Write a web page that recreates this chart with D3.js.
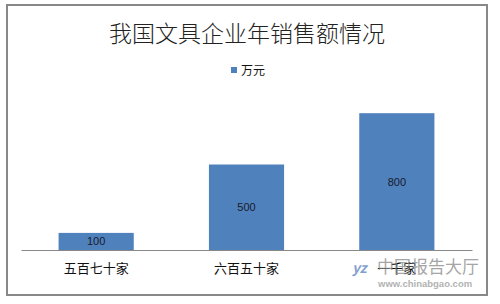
<!DOCTYPE html>
<html><head><meta charset="utf-8">
<script src="https://cdn.jsdelivr.net/npm/d3@7"></script>
<style>body{margin:0;background:#fff}</style>
</head><body>
<svg id="c" width="500" height="304"></svg>
<script>
const categories = ["五百七十家", "六百五十家", "一千家"];
const values = [100, 500, 800];
const seriesName = "万元";
const title = "我国文具企业年销售额情况";

const svg = d3.select("#c");
const font = "'Noto Sans CJK SC', 'Microsoft YaHei', sans-serif";
svg.append("rect").attr("x", 7).attr("y", 5).attr("width", 480).attr("height", 290)
  .attr("fill", "#fff").attr("stroke", "#888").attr("stroke-width", 2);

svg.append("text").attr("x", 247).attr("y", 42).attr("text-anchor", "middle")
  .attr("font-family", font).attr("font-size", 23).attr("font-weight", 300).attr("fill", "#222").text(title);

svg.append("rect").attr("x", 231).attr("y", 67).attr("width", 6).attr("height", 6).attr("fill", "#4F81BD");
svg.append("text").attr("x", 241).attr("y", 75).attr("font-family", font).attr("font-size", 12)
  .attr("fill", "#111").text(seriesName);

const x = d3.scaleBand().domain(categories).range([21, 472]).paddingInner(0.5).paddingOuter(0.25);
const y = d3.scaleLinear().domain([0, 1000]).range([250, 79]);

svg.selectAll(".bar").data(values).join("rect").attr("class", "bar")
  .attr("x", (d, i) => x(categories[i])).attr("width", x.bandwidth())
  .attr("y", d => y(d)).attr("height", d => y(0) - y(d)).attr("fill", "#4F81BD");

svg.selectAll(".vl").data(values).join("text").attr("class", "vl")
  .attr("x", (d, i) => x(categories[i]) + x.bandwidth() / 2)
  .attr("y", d => (y(d) + y(0)) / 2 + 4).attr("text-anchor", "middle")
  .attr("font-family", "'Liberation Sans', Arial, sans-serif").attr("font-size", 11)
  .attr("fill", "#1a1a2a").text(d => d);

const ax = svg.append("g").attr("transform", `translate(0,${y(0)})`)
  .call(d3.axisBottom(x).tickSize(0).tickPadding(14));
ax.select(".domain").attr("stroke", "#888");
ax.selectAll("text").attr("font-family", font).attr("font-size", 13).attr("fill", "#111");

// watermark
const wm = svg.append("g").attr("opacity", 0.75);
wm.append("text").attr("x", 352).attr("y", 273).attr("font-family", font).attr("font-size", 14)
  .attr("font-style", "italic").attr("font-weight", "bold").attr("fill", "#5b7fc0").text("yz");
wm.append("text").attr("x", 377).attr("y", 273).attr("font-family", font).attr("font-size", 17)
  .attr("fill", "#888").text("中国报告大厅");
wm.append("text").attr("x", 378).attr("y", 287).attr("font-family", "'Liberation Sans', Arial, sans-serif")
  .attr("font-size", 9.5).attr("font-weight", "bold").attr("fill", "#999").text("www.chinabgao.com");
</script>
</body></html>
